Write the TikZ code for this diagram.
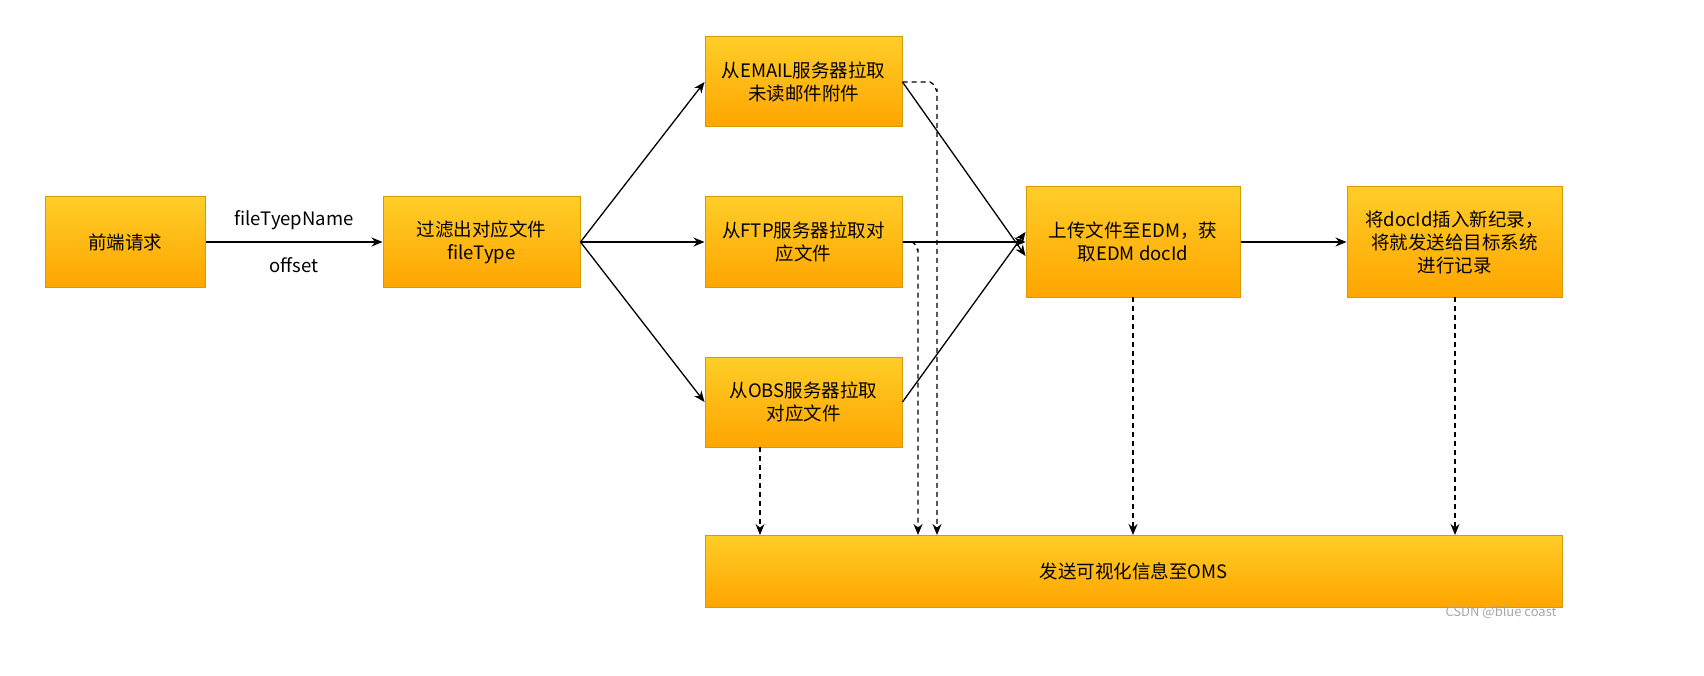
\documentclass[tikz,border=0pt]{standalone}
\usepackage{fontspec}
\setmainfont{Noto Sans CJK SC}
\usetikzlibrary{arrows.meta}
\definecolor{bord}{HTML}{D79B00}
\definecolor{ftop}{HTML}{FFCD28}
\definecolor{fbot}{HTML}{FFA500}
\tikzset{
 box/.style={draw=bord,line width=1pt,top color=ftop,bottom color=fbot,align=center,font=\fontsize{18.5}{23}\selectfont,inner sep=0pt},
 arr/.style={-{Stealth[length=11pt,width=9pt]},line width=1.3pt},
 darr/.style={arr,dashed,dash pattern=on 5pt off 4pt},
 lab/.style={font=\fontsize{18.5}{23}\selectfont}
}
\begin{document}
\begin{tikzpicture}[x=1pt,y=-1pt]
\useasboundingbox (0,0) rectangle (1704,676);
\node[box,minimum width=160pt,minimum height=90pt] (req) at (125,242) {前端请求};
\node[box,minimum width=197pt,minimum height=90pt] (flt) at (481.5,242) {过滤出对应文件\\fileType};
\node[box,minimum width=197pt,minimum height=90pt] (em) at (803.5,82) {从EMAIL服务器拉取\\未读邮件附件};
\node[box,minimum width=197pt,minimum height=90pt] (ftp) at (803.5,242) {从FTP服务器拉取对\\应文件};
\node[box,minimum width=197pt,minimum height=90pt] (obs) at (803.5,402) {从OBS服务器拉取\\对应文件};
\node[box,minimum width=214pt,minimum height=110pt] (up) at (1133,242) {上传文件至EDM，获\\取EDM docId};
\node[box,minimum width=215pt,minimum height=110pt] (ins) at (1454.5,242) {将docId插入新纪录，\\将就发送给目标系统\\进行记录};
\node[box,minimum width=857pt,minimum height=72pt] (oms) at (1133.5,571) {发送可视化信息至OMS};
\draw[arr] (req) -- (flt) node[lab,midway,above=8pt] {fileTyepName} node[lab,midway,below=12pt] {offset};
\draw[arr] (flt.east) -- (em.west);
\draw[arr] (flt.east) -- (ftp.west);
\draw[arr] (flt.east) -- (obs.west);
\draw[arr] (em.east) -- ([yshift=-14pt]up.west);
\draw[arr] (ftp.east) -- (up.west);
\draw[arr] (obs.east) -- ([yshift=10pt]up.west);
\draw[arr] (up) -- (ins);
\draw[darr] (em.east) -- (930,82) to[out=0,in=-90] (937,90) -- (937,535);
\draw[darr] (ftp.east) -- (912,242) to[out=0,in=-90] (918,250) -- (918,535);
\draw[darr] (760,447) -- (760,535);
\draw[darr] (1133,297) -- (1133,535);
\draw[darr] (1455,297) -- (1455,535);
\node[font=\fontsize{13}{15}\selectfont,text=gray!70,anchor=south east] (cs) at (1560,622) {CSDN @blue coast};
\end{tikzpicture}
\end{document}
